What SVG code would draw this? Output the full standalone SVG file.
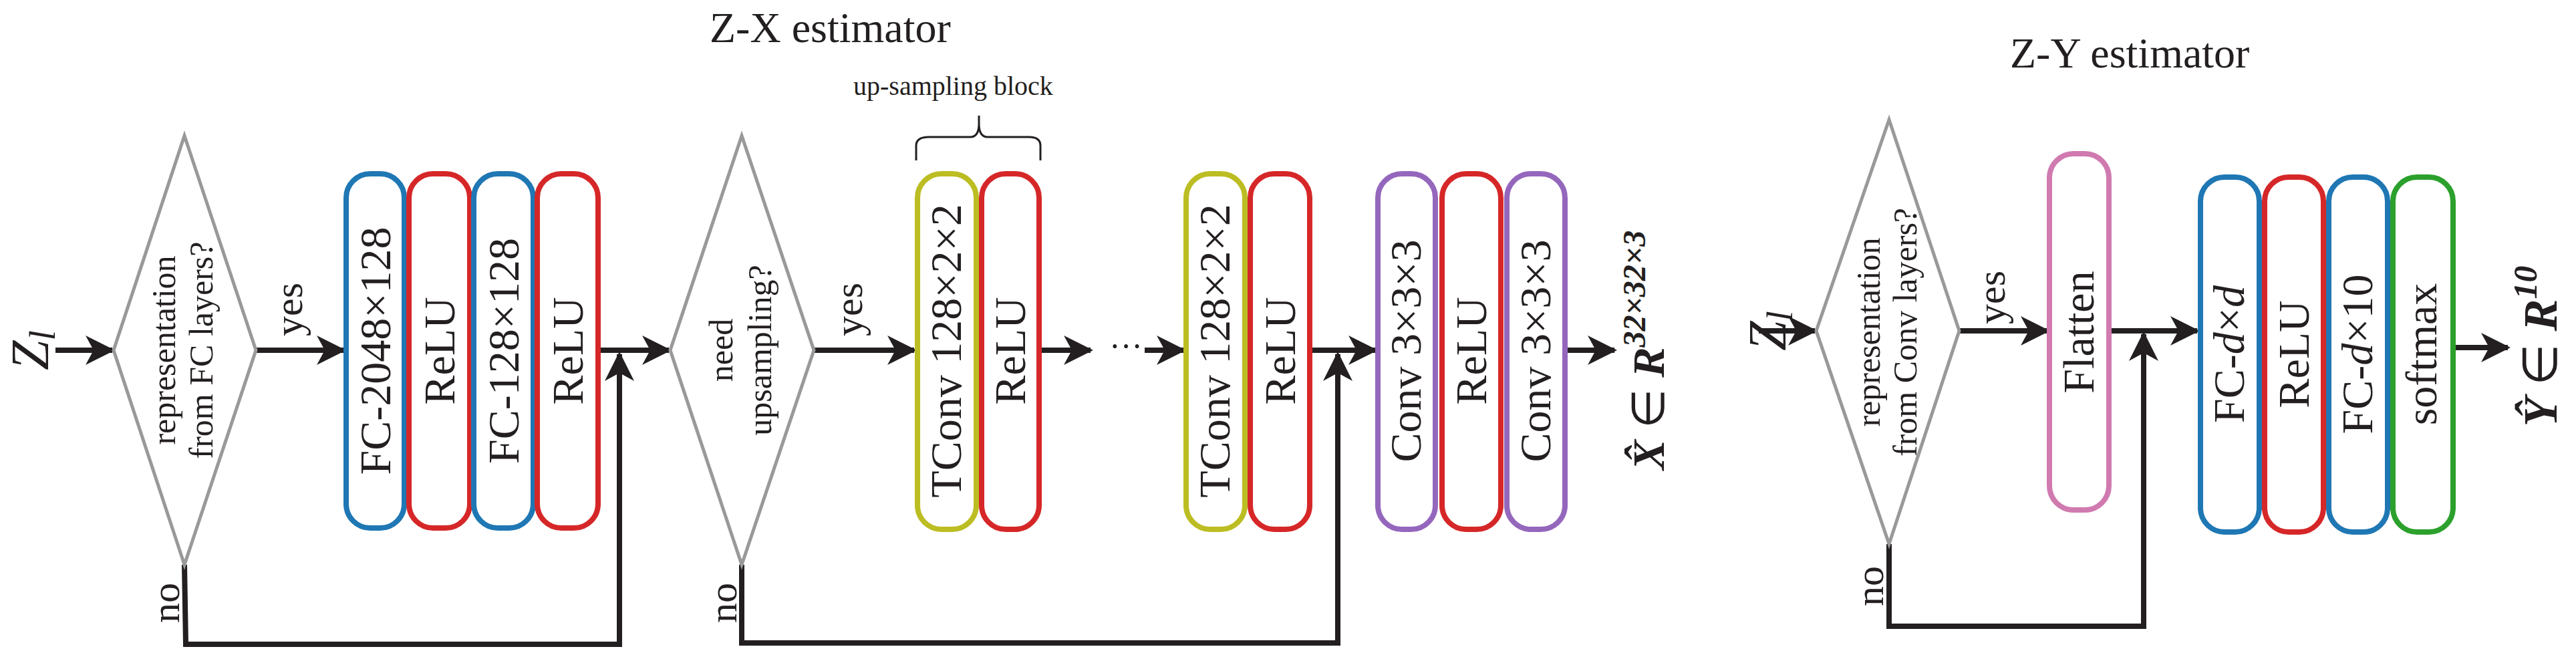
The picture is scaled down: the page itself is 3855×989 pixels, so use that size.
<svg xmlns="http://www.w3.org/2000/svg" width="3855" height="989" viewBox="0 0 3855 989">
<style>
text{font-family:"Liberation Serif","Times New Roman",serif;fill:#231f20}
.box{fill:#fff;stroke-width:8}
.dia{fill:#fff;stroke:#999;stroke-width:5}
.c{stroke:#231f20;stroke-width:8;fill:none}
.a{marker-end:url(#ah)}
.bt{font-size:66px}
.dt{font-size:50px}
.yn{font-size:60px}
.blue{stroke:#1f77b4}.red{stroke:#d62728}.olive{stroke:#bcbd22}.purple{stroke:#9467bd}.green{stroke:#2ca02c}.pink{stroke:#d07ab0}
</style>
<defs>
<marker id="ah" markerUnits="userSpaceOnUse" markerWidth="50" markerHeight="44" refX="40" refY="22" orient="auto">
<path d="M0,0 L44,22 L0,44 L12,22 Z" fill="#231f20"/>
</marker>
</defs>
<text x="1062" y="63" font-size="64">Z-X estimator</text>
<text x="1277" y="142" font-size="40">up-sampling block</text>
<path d="M1371,240 V218 Q1371,205 1390,205 H1452 Q1465,205 1465,185 V173 M1465,185 Q1465,205 1478,205 H1540 Q1557,205 1557,218 V240" fill="none" stroke="#231f20" stroke-width="3"/>
<text x="3008" y="101" font-size="64">Z-Y estimator</text>

<g id="connectors">
<line class="c a" x1="83" y1="524" x2="168" y2="524"/>
<line class="c a" x1="383" y1="524" x2="514" y2="524"/>
<line class="c a" x1="895" y1="524" x2="1001" y2="524"/>
<polyline class="c a" points="276,845 278,964 927,964 927,530"/>
<line class="c a" x1="1218" y1="524" x2="1368" y2="524"/>
<line class="c a" x1="1555" y1="524" x2="1632" y2="524"/>
<line class="c a" x1="1713" y1="524" x2="1771" y2="524"/>
<line class="c a" x1="1960" y1="524" x2="2058" y2="524"/>
<polyline class="c a" points="1110,845 1110,962 2002,962 2002,530"/>
<line class="c a" x1="2342" y1="524" x2="2416" y2="524"/>
<line class="c a" x1="2632" y1="495" x2="2716" y2="495"/>
<line class="c a" x1="2932" y1="495" x2="3064" y2="495"/>
<line class="c a" x1="3156" y1="495" x2="3288" y2="495"/>
<polyline class="c a" points="2827,814 2827,937 3208,937 3208,500"/>
<line class="c a" x1="3673" y1="520" x2="3753" y2="520"/>
</g>
<text x="1660" y="535" font-size="50">···</text>

<text class="yn" transform="translate(452,463) rotate(-90)" text-anchor="middle">yes</text>
<text class="yn" transform="translate(268,902) rotate(-90)" text-anchor="middle">no</text>
<text class="yn" transform="translate(1290,463) rotate(-90)" text-anchor="middle">yes</text>
<text class="yn" transform="translate(1102,902) rotate(-90)" text-anchor="middle">no</text>
<text class="yn" transform="translate(3000,445) rotate(-90)" text-anchor="middle">yes</text>
<text class="yn" transform="translate(2818,877) rotate(-90)" text-anchor="middle">no</text>

<g id="zl1"><text transform="translate(72,524) rotate(-90)" text-anchor="middle" font-size="80" font-style="italic">Z<tspan font-size="55" dy="10">l</tspan></text></g>
<g id="zl2"><text transform="translate(2672,495) rotate(-90)" text-anchor="middle" font-size="80" font-style="italic">Z<tspan font-size="55" dy="10">l</tspan></text></g>

<g id="d1"><polygon class="dia" points="276,203 383,524 276,845 170,524"/>
<text class="dt" transform="translate(262,524) rotate(-90)" text-anchor="middle">representation</text>
<text class="dt" transform="translate(318,524) rotate(-90)" text-anchor="middle">from FC layers?</text></g>
<g id="b1"><rect class="box blue" x="518" y="260" width="87" height="530" rx="36"/><text class="bt" transform="translate(584,525) rotate(-90)" text-anchor="middle">FC-2048×128</text></g>
<g id="b2"><rect class="box red" x="612" y="260" width="91" height="530" rx="36"/><text class="bt" transform="translate(680,525) rotate(-90)" text-anchor="middle">ReLU</text></g>
<g id="b3"><rect class="box blue" x="709" y="260" width="89" height="530" rx="36"/><text class="bt" transform="translate(776,525) rotate(-90)" text-anchor="middle">FC-128×128</text></g>
<g id="b4"><rect class="box red" x="804" y="260" width="91" height="530" rx="36"/><text class="bt" transform="translate(872,525) rotate(-90)" text-anchor="middle">ReLU</text></g>

<g id="d2"><polygon class="dia" points="1110,203 1218,524 1110,845 1003,524"/>
<text class="dt" transform="translate(1096,524) rotate(-90)" text-anchor="middle">need</text>
<text class="dt" transform="translate(1154,524) rotate(-90)" text-anchor="middle">upsampling?</text></g>
<g id="b5"><rect class="box olive" x="1373" y="260" width="88" height="532" rx="36"/><text class="bt" transform="translate(1438,525) rotate(-90)" text-anchor="middle">TConv 128×2×2</text></g>
<g id="b6"><rect class="box red" x="1469" y="260" width="86" height="532" rx="36"/><text class="bt" transform="translate(1534,525) rotate(-90)" text-anchor="middle">ReLU</text></g>
<g id="b7"><rect class="box olive" x="1775" y="260" width="88" height="532" rx="36"/><text class="bt" transform="translate(1840,525) rotate(-90)" text-anchor="middle">TConv 128×2×2</text></g>
<g id="b8"><rect class="box red" x="1871" y="260" width="89" height="532" rx="36"/><text class="bt" transform="translate(1938,525) rotate(-90)" text-anchor="middle">ReLU</text></g>
<g id="b9"><rect class="box purple" x="2062" y="260" width="86" height="532" rx="36"/><text class="bt" transform="translate(2126,525) rotate(-90)" text-anchor="middle">Conv 3×3×3</text></g>
<g id="b10"><rect class="box red" x="2158" y="260" width="88" height="532" rx="36"/><text class="bt" transform="translate(2224,525) rotate(-90)" text-anchor="middle">ReLU</text></g>
<g id="b11"><rect class="box purple" x="2255" y="260" width="87" height="532" rx="36"/><text class="bt" transform="translate(2320,525) rotate(-90)" text-anchor="middle">Conv 3×3×3</text></g>
<g id="out1"><text transform="translate(2490,524) rotate(-90)" text-anchor="middle" font-size="68" font-style="italic" font-weight="bold">X̂ <tspan font-style="normal" font-weight="normal">∈</tspan> R<tspan font-size="48" dy="-28">32×32×3</tspan></text></g>

<g id="d3"><polygon class="dia" points="2827,179 2932,495 2827,814 2718,495"/>
<text class="dt" transform="translate(2813,497) rotate(-90)" text-anchor="middle">representation</text>
<text class="dt" transform="translate(2868,497) rotate(-90)" text-anchor="middle">from Conv layers?</text></g>
<g id="b12"><rect class="box pink" x="3067" y="230" width="89" height="533" rx="36"/><text class="bt" transform="translate(3133,497) rotate(-90)" text-anchor="middle">Flatten</text></g>
<g id="b13"><rect class="box blue" x="3293" y="265" width="88" height="531" rx="36"/><text class="bt" transform="translate(3358,530) rotate(-90)" text-anchor="middle">FC-<tspan font-style="italic">d</tspan>×<tspan font-style="italic">d</tspan></text></g>
<g id="b14"><rect class="box red" x="3389" y="265" width="88" height="531" rx="36"/><text class="bt" transform="translate(3455,530) rotate(-90)" text-anchor="middle">ReLU</text></g>
<g id="b15"><rect class="box blue" x="3485" y="265" width="88" height="531" rx="36"/><text class="bt" transform="translate(3550,530) rotate(-90)" text-anchor="middle">FC-<tspan font-style="italic">d</tspan>×10</text></g>
<g id="b16"><rect class="box green" x="3581" y="265" width="90" height="531" rx="36"/><text class="bt" transform="translate(3646,530) rotate(-90)" text-anchor="middle">softmax</text></g>
<g id="out2"><text transform="translate(3826,518) rotate(-90)" text-anchor="middle" font-size="72" font-style="italic" font-weight="bold">Ŷ <tspan font-style="normal" font-weight="normal">∈</tspan> R<tspan font-size="50" dy="-30">10</tspan></text></g>
</svg>
